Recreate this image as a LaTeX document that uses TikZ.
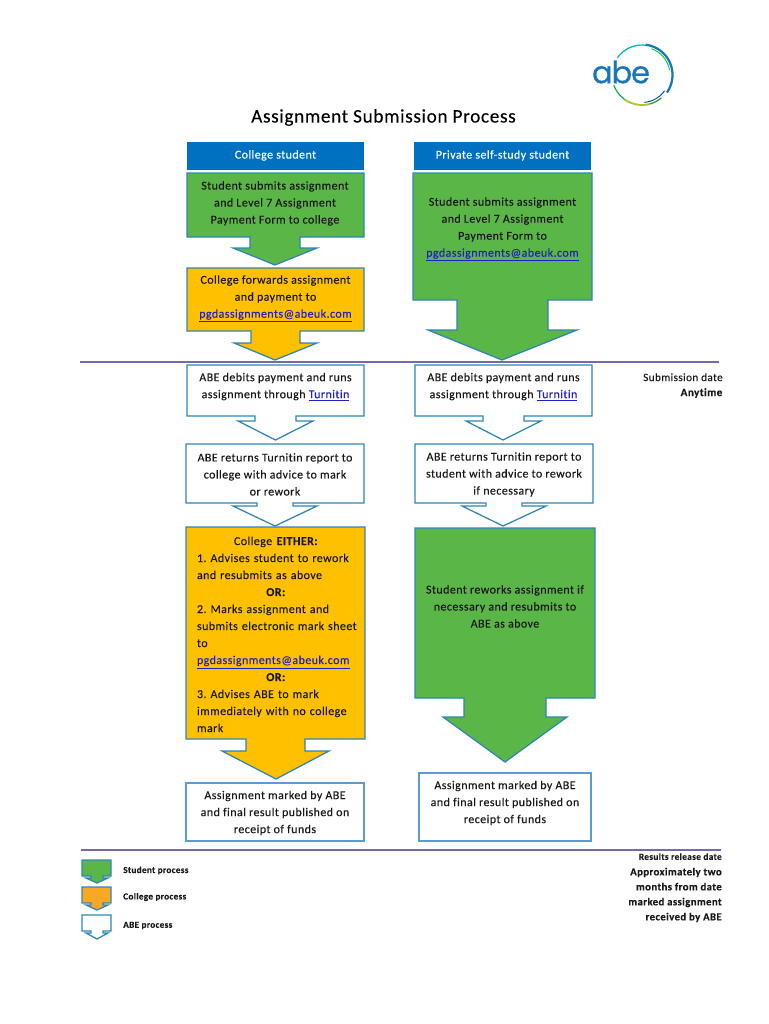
\documentclass[tikz,border=0pt]{standalone}
\usepackage{fontspec}
\setmainfont[LetterSpace=3.5,Ligatures=NoCommon,FakeBold=0.12]{Carlito}
\newfontfamily\logofont[LetterSpace=-4,FakeBold=0.7]{Poppins}
\definecolor{hdr}{HTML}{0070C0}
\definecolor{logoblue}{HTML}{1B75BB}
\definecolor{grn}{HTML}{5BB648}
\definecolor{org}{HTML}{FFC000}
\definecolor{legorg}{HTML}{F9A825}
\definecolor{edge}{HTML}{2E86B8}
\definecolor{lightedge}{HTML}{5B9BD5}
\definecolor{rule}{HTML}{7468B0}
\definecolor{lnk}{HTML}{1F1FC8}
\tikzset{
  flow/.style={draw=edge,line width=.95pt,line join=miter},
  endbox/.style={draw=lightedge,line width=.8pt,fill=white},
  txt/.style={align=center,font=\fontsize{9pt}{12.75pt}\selectfont,text=black!90,inner sep=0pt,yshift=-.3pt},
  sep/.style={draw=rule,line width=.8pt},
  note/.style={align=right,anchor=north east,inner sep=0pt,text=black!90},
  legtxt/.style={anchor=west,inner sep=0pt,font=\fontsize{6.9pt}{8pt}\selectfont\bfseries,text=black!90}
}
\newcommand{\lk}[1]{\textcolor{lnk}{\underline{#1}}}
% fill, x1,y1,x2,y2, shaftL,shaftR, headL,headR, headY, tipX,tipY
\newcommand{\callout}[9]{\def\argA{#1}\def\argB{#2}\def\argC{#3}\def\argD{#4}\def\argE{#5}\def\argF{#6}\def\argG{#7}\def\argH{#8}\def\argI{#9}\calloutB}
\newcommand{\calloutB}[3]{\path[flow,fill=\argA] (\argB,\argC) -- (\argD,\argC) -- (\argD,\argE) -- (\argG,\argE) -- (\argG,#1) -- (\argI,#1) -- (#2,#3) -- (\argH,#1) -- (\argF,#1) -- (\argF,\argE) -- (\argB,\argE) -- cycle;}
\newcommand{\lineL}[1]{\makebox[\linewidth][l]{#1}}
\frenchspacing
\begin{document}
\begin{tikzpicture}[x=.75pt,y=-.75pt]
\useasboundingbox (0,0) rectangle (768,1024);
% logo
\node[inner sep=0pt,text=logoblue,font=\logofont\fontsize{23pt}{23pt}\selectfont] (logo) at (621,72) {abe};
\draw[teal!60!cyan,line width=.9pt] (642,75) ++(215:30) arc[start angle=215,end angle=280,radius=30];
\draw[logoblue,line width=1.7pt] (642,75) ++(277:30.5) arc[start angle=277,end angle=395,radius=30.5];
\draw[green!60!teal,line width=.7pt] (642,75) ++(290:28) arc[start angle=290,end angle=350,radius=28];
\draw[teal!60!green,line width=.9pt] (642,75) ++(160:30) arc[start angle=160,end angle=125,radius=30];
\draw[yellow!75!green!85!black,line width=1.4pt] (642,75) ++(125:30) arc[start angle=125,end angle=75,radius=30];
\draw[green!55!black!80,line width=1pt] (642,75) ++(75:30) arc[start angle=75,end angle=50,radius=30];
\draw[blue!50!teal,line width=.7pt] (642,75) ++(85:27.5) arc[start angle=85,end angle=35,radius=27.5];
% title
\node[inner sep=0pt,font=\fontsize{14.4pt}{16pt}\selectfont] (title) at (383.5,117.5) {Assignment Submission Process};
% headers
\path[fill=hdr] (187,142) rectangle (364,170);
\node[txt,text=white] (h1) at (275.5,155) {College student};
\path[fill=hdr] (414,142) rectangle (591,170);
\node[txt,text=white] (h2) at (502.5,155) {Private self-study student};
% left column
\callout{grn}{187}{173}{364}{237}{250}{300}{233}{317}{248}{275}{265}
\node[txt] (a1) at (275,203) {Student submits assignment\\and Level 7 Assignment\\Payment Form to college};
\callout{org}{187}{268}{364}{331}{251}{300}{234}{317}{343}{275}{360}
\node[txt] (a2) at (275.5,298.5) {College forwards assignment\\and payment to\\\lk{pgdassignments@abeuk.com}};
\callout{white}{187}{365}{364}{416}{255}{296}{238}{313}{421}{275.5}{440}
\node[txt] (a3) at (275.5,386.5) {ABE debits payment and runs\\assignment through \lk{Turnitin}};
\callout{white}{186}{444}{364}{503}{257}{293}{233}{317}{506}{275}{526}
\node[txt] (a4) at (275,474) {ABE returns Turnitin report to\\college with advice to mark\\or rework};
\callout{org}{186}{527}{365}{739}{246}{305}{222}{329}{751}{276}{779}
\node[txt,text width=118.5pt,align=left] (a5) at (276,634) {\centering College \textbf{EITHER:}\par
\raggedright \lineL{1. Advises student to rework}\\\lineL{and resubmits as above}\par
\centering\textbf{OR:}\par
\raggedright \lineL{2. Marks assignment and}\\\lineL{submits electronic mark sheet}\\\lineL{to}\\\lineL{\lk{pgdassignments@abeuk.com}}\par
\centering\textbf{OR:}\par
\raggedright \lineL{3. Advises ABE to mark}\\\lineL{immediately with no college}\\\lineL{mark}};
\draw[endbox] (186,783) rectangle (364,841);
\node[txt] (a6) at (275,812.5) {Assignment marked by ABE\\and final result published on\\receipt of funds};
% right column
\callout{grn}{413}{173}{592}{300}{457}{548}{428}{577}{330}{502}{360}
\node[txt] (b1) at (502.5,229) {Student submits assignment\\and Level 7 Assignment\\Payment Form to\\\lk{pgdassignments@abeuk.com}};
\callout{white}{415}{365}{592}{416}{483}{524}{466}{541}{421}{503}{440}
\node[txt] (b3) at (503.5,386.5) {ABE debits payment and runs\\assignment through \lk{Turnitin}};
\callout{white}{415}{444}{593}{503}{486}{522}{462}{546}{506}{503}{526}
\node[txt] (b4) at (504,474) {ABE returns Turnitin report to\\student with advice to rework\\if necessary};
\callout{grn}{415}{528}{595}{698}{464}{546}{443}{567}{717}{505}{762}
\node[txt] (b5) at (505,606) {Student reworks assignment if\\necessary and resubmits to\\ABE as above};
\draw[endbox] (419,773) rectangle (591,841);
\node[txt] (b6) at (505,802.5) {Assignment marked by ABE\\and final result published on\\receipt of funds};
% separators
\coordinate (s1a) at (80,362); \coordinate (s1b) at (719,362);
\draw[sep] (s1a) -- (s1b);
\coordinate (s2a) at (81,850); \coordinate (s2b) at (721,850);
\draw[sep] (s2a) -- (s2b);
% notes
\node[note,font=\fontsize{8.4pt}{11.25pt}\selectfont] (n1) at (723,373) {Submission date\\\textbf{Anytime}};
\node[note,font=\fontsize{7pt}{8pt}\selectfont\bfseries] (n2) at (722,853) {Results release date};
\node[note,font=\fontsize{8.1pt}{11.25pt}\selectfont\bfseries] (n3) at (722,867.5) {Approximately two\\months from date\\marked assignment\\received by ABE};
% legend
\callout{grn}{82}{860}{111}{876}{91}{103}{86}{108}{878}{97}{883}
\callout{legorg}{82}{887}{111}{903}{91}{103}{86}{108}{905}{97}{910}
\callout{white}{82}{915}{111}{931}{91}{103}{86}{108}{933}{97}{939}
\node[legtxt] (l1) at (123,870.5) {Student process};
\node[legtxt] (l2) at (123,897) {College process};
\node[legtxt] (l3) at (123,925.5) {ABE process};
\end{tikzpicture}
\end{document}
